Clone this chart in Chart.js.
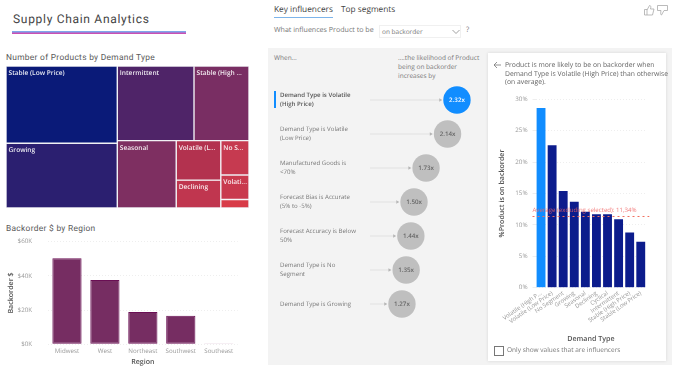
<!DOCTYPE html>
<html>
<head>
<meta charset="utf-8">
<script src="https://cdn.jsdelivr.net/npm/chart.js"></script>
<style>
  html, body { margin: 0; padding: 0; background: #fff; }
  body { width: 680px; height: 377px; position: relative; overflow: hidden; font-family: "Open Sans", sans-serif; text-rendering: geometricPrecision; }
  .t { position: absolute; white-space: nowrap; line-height: 1; }
  .din { font-family: Roboto, sans-serif; color: #5a5a5a; font-size: 8.4px; letter-spacing: 0.3px; }
  .ui { font-size: 6.5px; color: #777; }
  .abs { position: absolute; }
  canvas { position: absolute; }
</style>
</head>
<body>
  <!-- left side -->
  <div class="t" style="left:13px;top:12px;font:400 12px Roboto,sans-serif;letter-spacing:0.7px;color:#444">Supply Chain Analytics</div>
  <div class="abs" style="left:12px;top:31px;width:174px;height:3px;background:linear-gradient(#7fa6ea 35%,#c94fb4 65%)"></div>
  <div class="t din" style="left:6px;top:54px">Number of Products by Demand Type</div>
  <div class="t din" style="left:6px;top:225px">Backorder $ by Region</div>
  <canvas id="treeChart" style="left:6px;top:66px"></canvas>
  <canvas id="regionChart" style="left:0;top:235px"></canvas>

  <!-- key influencers header -->
  <div class="t" style="left:274px;top:6px;font-size:8.3px;color:#444">Key influencers</div>
  <div class="abs" style="left:274px;top:17px;width:59px;height:1px;background:#7db4ea"></div>
  <div class="t" style="left:341px;top:6px;font-size:8.3px;color:#444">Top segments</div>
  <div class="t" style="left:274px;top:27px;font-size:7.1px;color:#777">What influences Product to be</div>
  <div class="abs" style="left:379px;top:25px;width:82px;height:13px;border:1px solid #f0f0f0;box-sizing:border-box"></div>
  <div class="t ui" style="left:382px;top:29px">on backorder</div>
  <svg class="abs" style="left:451px;top:29px" width="10" height="6"><path d="M1.5 1 L5 4.5 L8.5 1" fill="none" stroke="#888" stroke-width="0.8"/></svg>
  <div class="t" style="left:466px;top:27px;font-size:7.5px;color:#777">?</div>
  <svg class="abs" style="left:643px;top:4px" width="26" height="12" fill="none" stroke="#aaa" stroke-width="0.8">
    <path d="M1.5 5.5 H4 V11 H1.5 Z M4 6 L6.5 1.5 C8 1.5 8 3 7.5 5 H11 L9.5 11 H4"/>
    <path d="M14.5 1.5 H24.5 V6.5 H21 L18.5 11 C17.5 11 17.5 9 18 6.5 H14.5 Z"/>
  </svg>

  <!-- grey panel -->
  <div class="abs" style="left:268px;top:48px;width:404px;height:317px;background:#f3f3f3"></div>
  <div class="t ui" style="left:274px;top:55px">When...</div>
  <div class="t ui" style="left:398px;top:54px;line-height:8.8px">....the likelihood of Product<br>being on backorder<br>increases by</div>
  <div class="abs" style="left:274px;top:91px;width:2px;height:17px;background:#118dff"></div>
  <canvas id="influencerChart" style="left:268px;top:48px"></canvas>

  <!-- detail card -->
  <div class="abs" style="left:488px;top:53px;width:178px;height:308px;background:#fff;box-shadow:0 0 3px rgba(0,0,0,0.12)"></div>
  <svg class="abs" style="left:493px;top:61px" width="9" height="8" fill="none" stroke="#777" stroke-width="0.8"><path d="M8 4 H1 M4 1 L1 4 L4 7"/></svg>
  <div class="t ui" style="left:505px;top:61px;font-size:6.8px;line-height:8.6px;color:#666">Product is more likely to be on backorder when<br>Demand Type is Volatile (High Price) than otherwise<br>(on average).</div>
  <canvas id="detailChart" style="left:488px;top:90px"></canvas>
  <div class="abs" style="left:494px;top:346px;width:8px;height:8px;border:1px solid #777;box-sizing:content-box"></div>
  <div class="t ui" style="left:507px;top:347px">Only show values that are influencers</div>

<script>
// Treemap: Number of Products by Demand Type
const treeLabels = ['Stable (Low Price)', 'Growing', 'Intermittent', 'Stable (High ...', 'Seasonal', 'Volatile (L...', 'Declining', 'No S...', 'Volati...', ''];
const treeValues = [249, 209, 166, 119, 115, 51, 36, 28, 20, 7];
const treeColors = ['#0a1a78', '#2b1f70', '#4f2468', '#792e63', '#7e2f61', '#b3324f', '#c0364f', '#c63a50', '#c93a4e', '#d83b48'];
// how the cells nest: h = side by side, v = stacked, numbers index the lists above
const treeNesting = ['h', ['v', 0, 1], ['v', ['h', 2, 3], ['h', 4, ['v', 5, 6], ['v', 7, 8, 9]]]];

// Bars: Backorder $ by Region
const regions = ['Midwest', 'West', 'Northeast', 'Southwest', 'Southeast'];
const backorderValues = [50300, 37600, 18900, 16700, 500];

// Key influencers
const influencerLabels = [
  ['Demand Type is Volatile', '(High Price)'],
  ['Demand Type is Volatile', '(Low Price)'],
  ['Manufactured Goods is', '<70%'],
  ['Forecast Bias is Accurate', '(5% to -5%)'],
  ['Forecast Accuracy is Below', '50%'],
  ['Demand Type is No', 'Segment'],
  'Demand Type is Growing'
];
const influencerValues = [2.32, 2.14, 1.73, 1.50, 1.44, 1.35, 1.27];

// Detail bars: %Product is on backorder
const demandTypes = ['Volatile (High P...', 'Volatile (Low Price)', 'No Segment', 'Growing', 'Seasonal', 'Declining', 'Cyclical', 'Intermittent', 'Stable (High Price)', 'Stable (Low Price)'];
const backorderPct = [28.6, 22.7, 15.4, 13.7, 12.1, 11.7, 11.7, 10.9, 8.8, 7.3];
const averageExcluded = 11.34;

Chart.defaults.animation = false;
Chart.defaults.responsive = false;
Chart.defaults.layout.autoPadding = false;
Chart.defaults.plugins.legend.display = false;
Chart.defaults.plugins.tooltip.enabled = false;
Chart.defaults.font.family = '"Open Sans", sans-serif';

// small text needs fractional glyph widths
Chart.register({
  id: 'preciseText',
  beforeUpdate(chart) { chart.ctx.textRendering = 'geometricPrecision'; },
  beforeDraw(chart) { chart.ctx.textRendering = 'geometricPrecision'; }
});

function sizeCanvas(id, w, h) {
  const c = document.getElementById(id);
  c.width = w;
  c.height = h;
  return c.getContext('2d');
}

// sum of the values under a nesting node
function nodeTotal(node) {
  if (typeof node === 'number') return treeValues[node];
  return node.slice(1).reduce((s, n) => s + nodeTotal(n), 0);
}

// split the unit square by the values, returns one box per cell index
function layoutTree(node, box, out) {
  if (typeof node === 'number') {
    out[node] = box;
    return out;
  }
  const total = nodeTotal(node);
  let pos = node[0] === 'h' ? box.x0 : box.y0;
  node.slice(1).forEach(n => {
    const share = nodeTotal(n) / total;
    if (node[0] === 'h') {
      const next = pos + share * (box.x1 - box.x0);
      layoutTree(n, { x0: pos, x1: next, y0: box.y0, y1: box.y1 }, out);
      pos = next;
    } else {
      const next = pos + share * (box.y1 - box.y0);
      layoutTree(n, { x0: box.x0, x1: box.x1, y0: pos, y1: next }, out);
      pos = next;
    }
  });
  return out;
}

// moves the bar elements to their treemap cells and writes the names on them
const treemapPlugin = {
  id: 'treemapCells',
  afterDatasetsUpdate(chart) {
    const fx = chart.scales.fx, fy = chart.scales.fy;
    const boxes = layoutTree(treeNesting, { x0: 0, x1: 1, y0: 0, y1: 1 }, []);
    chart.getDatasetMeta(0).data.forEach((bar, i) => {
      const left = fx.getPixelForValue(boxes[i].x0), right = fx.getPixelForValue(boxes[i].x1);
      bar.x = (left + right) / 2;
      bar.width = right - left;
      bar.y = fy.getPixelForValue(boxes[i].y0);
      bar.base = fy.getPixelForValue(boxes[i].y1);
      bar.height = bar.base - bar.y;
    });
  },
  afterDatasetsDraw(chart) {
    const ctx = chart.ctx;
    ctx.save();
    ctx.font = '600 6.6px "Open Sans", sans-serif';
    ctx.fillStyle = 'rgba(255,255,255,0.9)';
    ctx.textBaseline = 'middle';
    chart.getDatasetMeta(0).data.forEach((bar, i) => {
      ctx.fillText(treeLabels[i], bar.x - bar.width / 2 + 2.5, bar.y + 7);
    });
    ctx.restore();
  }
};

new Chart(sizeCanvas('treeChart', 243, 142), {
  type: 'bar',
  data: {
    labels: treeLabels,
    datasets: [{
      data: treeValues,
      backgroundColor: treeColors,
      borderColor: '#e9e9ee',
      borderWidth: 0.7,
      borderSkipped: false,
      inflateAmount: 0
    }]
  },
  options: {
    scales: {
      x: { display: false },
      y: { display: false, beginAtZero: true },
      fx: { axis: 'x', type: 'linear', offset: false, min: 0, max: 1, display: false },
      fy: { axis: 'y', type: 'linear', min: 0, max: 1, reverse: true, display: false }
    }
  },
  plugins: [treemapPlugin]
});

new Chart(sizeCanvas('regionChart', 260, 135), {
  type: 'bar',
  data: {
    labels: regions,
    datasets: [{
      data: backorderValues,
      backgroundColor: '#762d62',
      borderColor: '#6a0f54',
      borderWidth: 1,
      borderSkipped: false,
      barPercentage: 0.77,
      categoryPercentage: 1
    }]
  },
  options: {
    layout: { padding: { top: 6.7, left: 7, right: 22.3, bottom: 4 } },
    scales: {
      x: {
        grid: { display: false, drawTicks: false },
        border: { display: false },
        ticks: { color: '#999', font: { size: 6.2 }, padding: 3, autoSkip: false, maxRotation: 0 },
        title: { display: true, text: 'Region', color: '#555', font: { size: 7.1, weight: '600' }, padding: 0 },
        afterFit(scale) { scale.height = 21.7; }
      },
      y: {
        min: 0,
        max: 60000,
        grid: { color: '#eeeeee', drawTicks: false },
        border: { display: false, dash: [1, 2] },
        ticks: { stepSize: 20000, color: '#999', font: { size: 6.2 }, padding: 16, callback: v => '$' + v / 1000 + 'K' },
        title: { display: true, text: 'Backorder $', color: '#555', font: { size: 7.1, weight: '600' }, padding: 0 },
        afterFit(scale) {
          scale.width = 41;
          // the wide tick padding must not push the plot down
          scale.paddingTop = 0;
          scale.paddingBottom = 0;
        }
      }
    }
  }
});

// grey arrows into the bubbles and the multiplier text on them
const arrowPlugin = {
  id: 'influenceArrows',
  beforeDatasetsDraw(chart) {
    const ctx = chart.ctx;
    const points = chart.getDatasetMeta(0).data;
    ctx.save();
    points.forEach(p => {
      const tip = p.x - p.options.radius - 1;
      ctx.strokeStyle = '#dcdcdc';
      ctx.lineWidth = 0.8;
      ctx.beginPath();
      ctx.moveTo(chart.chartArea.left, p.y);
      ctx.lineTo(tip - 2, p.y);
      ctx.stroke();
      ctx.fillStyle = '#b5b5b5';
      ctx.beginPath();
      ctx.moveTo(tip, p.y);
      ctx.lineTo(tip - 3, p.y - 1.7);
      ctx.lineTo(tip - 3, p.y + 1.7);
      ctx.fill();
    });
    ctx.restore();
  },
  afterDatasetsDraw(chart) {
    const ctx = chart.ctx;
    ctx.save();
    ctx.font = '600 6.2px "Open Sans", sans-serif';
    ctx.textAlign = 'center';
    ctx.textBaseline = 'middle';
    chart.getDatasetMeta(0).data.forEach((p, i) => {
      ctx.fillStyle = i === 0 ? '#ffffff' : '#666666';
      ctx.fillText(influencerValues[i].toFixed(2) + 'x', p.x, p.y);
    });
    ctx.restore();
  }
};

new Chart(sizeCanvas('influencerChart', 217, 317), {
  type: 'bubble',
  data: {
    datasets: [{
      data: influencerValues.map((v, i) => ({ x: v, y: i })),
      radius: 13.7,
      borderWidth: 0,
      backgroundColor: influencerValues.map((v, i) => i === 0 ? '#118dff' : '#bfbfbf')
    }]
  },
  options: {
    layout: { padding: { top: 35, left: 12, right: 2, bottom: 44 } },
    scales: {
      x: { type: 'linear', min: 0.66, max: 2.817, display: false },
      y: {
        type: 'category',
        labels: influencerLabels,
        offset: true,
        grid: { display: false },
        border: { display: false },
        ticks: {
          crossAlign: 'far',
          autoSkip: false,
          color: ctx => ctx.index === 0 ? '#555' : '#777',
          font: ctx => ({ size: 6.1, weight: ctx.index === 0 ? '600' : '400', lineHeight: '8.7px' })
        },
        afterFit(scale) { scale.width = 90; }
      }
    }
  },
  plugins: [arrowPlugin]
});

// dashed average line with its caption
const averagePlugin = {
  id: 'averageLine',
  afterDatasetsDraw(chart) {
    const ctx = chart.ctx;
    const y = chart.scales.y.getPixelForValue(averageExcluded);
    const { left, right } = chart.chartArea;
    ctx.save();
    ctx.strokeStyle = '#f0705f';
    ctx.lineWidth = 1;
    ctx.setLineDash([2, 3]);
    ctx.beginPath();
    ctx.moveTo(left - 3, y);
    ctx.lineTo(right + 3, y);
    ctx.stroke();
    ctx.font = '6.1px "Open Sans", sans-serif';
    ctx.fillStyle = 'rgba(240,100,100,0.85)';
    ctx.textBaseline = 'middle';
    ctx.fillText('Average (excluding selected): ' + averageExcluded.toFixed(2).replace('.', ',') + '%', left - 3, y - 6.5);
    ctx.restore();
  }
};

new Chart(sizeCanvas('detailChart', 178, 255), {
  type: 'bar',
  data: {
    labels: demandTypes,
    datasets: [{
      data: backorderPct,
      backgroundColor: demandTypes.map((d, i) => i === 0 ? '#118dff' : '#0c1c8c'),
      barPercentage: 0.8,
      categoryPercentage: 1
    }]
  },
  options: {
    layout: { padding: { top: 9.3, left: 10, right: 19.7, bottom: 2 } },
    scales: {
      x: {
        grid: { display: false, drawTicks: false },
        border: { display: false },
        ticks: { color: '#999', font: { size: 5.9 }, padding: 2, autoSkip: false, minRotation: 35, maxRotation: 35 },
        title: { display: true, text: 'Demand Type', color: '#555', font: { size: 7.1, weight: '600' }, padding: 0 },
        afterFit(scale) { scale.height = 55.3; }
      },
      y: {
        min: 0,
        max: 30,
        grid: { color: '#eeeeee', tickColor: '#eeeeee', tickLength: 3 },
        border: { display: false, dash: [1, 2] },
        ticks: { stepSize: 5, color: '#999', font: { size: 6.2 }, padding: 5, callback: v => v + '%' },
        title: { display: true, text: '%Product is on backorder', color: '#555', font: { size: 7.1, weight: '600' }, padding: 0 },
        afterFit(scale) {
          scale.width = 37.5;
          scale.paddingTop = 0;
          scale.paddingBottom = 0;
        }
      }
    }
  },
  plugins: [averagePlugin]
});
</script>
</body>
</html>
